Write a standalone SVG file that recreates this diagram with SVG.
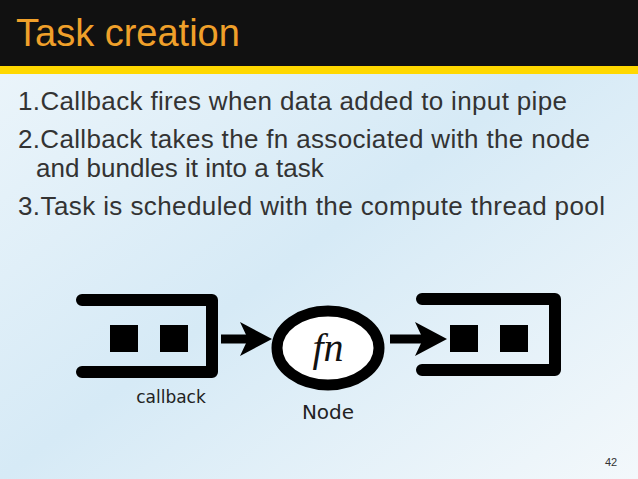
<svg xmlns="http://www.w3.org/2000/svg" width="638" height="479" viewBox="0 0 638 479">
<defs>
<linearGradient id="sky" x1="0" y1="0" x2="1" y2="1">
<stop offset="0" stop-color="#eef6fb"/><stop offset="0.5" stop-color="#d6eaf6"/><stop offset="1" stop-color="#f3f8fb"/>
</linearGradient>
<style>
.t{font-family:"Liberation Sans",Arial,sans-serif;font-size:26px;fill:#333}
.p{fill:none;stroke:#000;stroke-width:12;stroke-linecap:round;stroke-linejoin:round}
.sq{fill:#000}
.lab{font-family:"DejaVu Sans",sans-serif;fill:#222}
</style>
</defs>
<rect width="638" height="479" fill="url(#sky)"/>
<rect width="638" height="66" fill="#111"/>
<rect y="66" width="638" height="8" fill="#ffd800"/>
<text x="16" y="46" font-family="Liberation Sans,Arial,sans-serif" font-size="38" fill="#f0a02a">Task creation</text>
<text class="t" x="18" y="110" textLength="549">1.Callback fires when data added to input pipe</text>
<text class="t" x="18" y="148" textLength="572">2.Callback takes the fn associated with the node</text>
<text class="t" x="36" y="177">and bundles it into a task</text>
<text class="t" x="18" y="215" textLength="587">3.Task is scheduled with the compute thread pool</text>
<g id="inpipe"><path class="p" d="M82,300 H212 V372 H82"/><rect class="sq" x="110" y="325" width="28" height="27"/><rect class="sq" x="160" y="325" width="28" height="27"/></g>
<g id="node"><ellipse cx="328" cy="348" rx="51" ry="37" fill="#fff" stroke="#000" stroke-width="11"/><text x="328" y="361" text-anchor="middle" font-family="Liberation Serif,serif" font-style="italic" font-size="40" fill="#111">fn</text><text class="lab" x="328" y="419" text-anchor="middle" font-size="20">Node</text></g>
<g id="outpipe"><path class="p" d="M422,299 H555 V370 H422"/><rect class="sq" x="450" y="325" width="28" height="27"/><rect class="sq" x="500" y="325" width="28" height="27"/></g>
<text class="lab" x="171" y="403" text-anchor="middle" font-size="17">callback</text>
<g id="connectors">
<line x1="221" y1="339" x2="250" y2="339" stroke="#000" stroke-width="9"/>
<path d="M240,322 L272,339 L240,356 L248,339 Z" fill="#000"/>
<line x1="390" y1="339" x2="425" y2="339" stroke="#000" stroke-width="9"/>
<path d="M415,322 L447,339 L415,356 L423,339 Z" fill="#000"/>
</g>
<text x="605" y="466" font-family="Liberation Sans,Arial,sans-serif" font-size="11" fill="#333">42</text>
</svg>
